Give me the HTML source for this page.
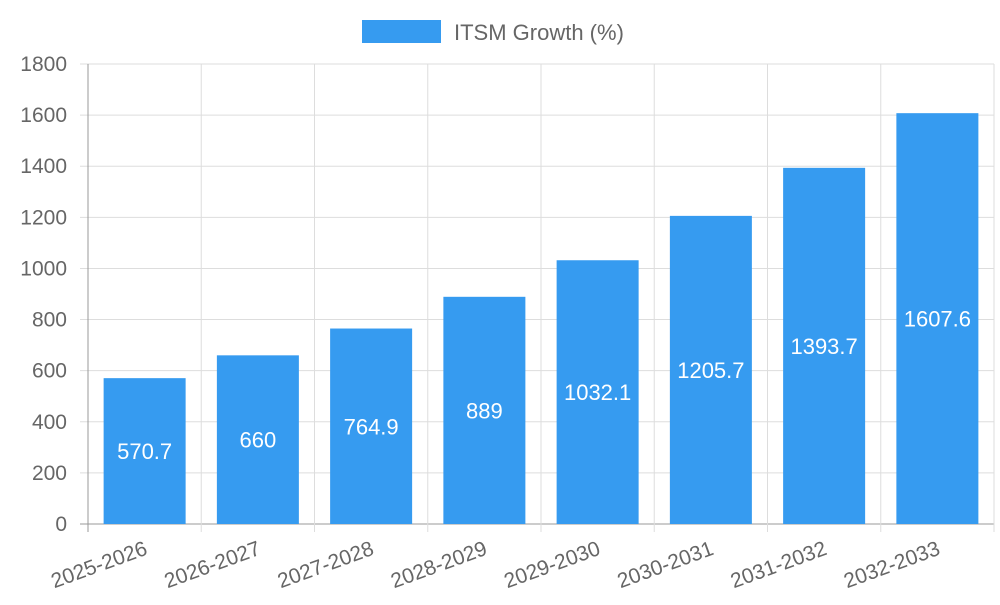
<!DOCTYPE html>
<html><head><meta charset="utf-8"><style>
body{margin:0;background:#fff;}
svg{font-family:"Liberation Sans",sans-serif;}
</style></head><body>
<svg width="1000" height="600">
<g>
<rect x="362" y="20" width="79" height="23" fill="#369bf0"/>
<text x="454" y="40" font-size="22" fill="#666">ITSM Growth (%)</text>
</g>
<g id="grid"></g>
<g id="bars"></g>
<g id="axes"></g>
</svg>
<script>
const categories=["2025-2026","2026-2027","2027-2028","2028-2029","2029-2030","2030-2031","2031-2032","2032-2033"];
const values=[570.7,660,764.9,889,1032.1,1205.7,1393.7,1607.6];
const yTicks=[0,200,400,600,800,1000,1200,1400,1600,1800];
const X0=88,X1=994,Y0=524,Y1=64,YMAX=1800;
const NS="http://www.w3.org/2000/svg";
const bw=(X1-X0)/categories.length;
const y=v=>Y0-(v/YMAX)*(Y0-Y1);
const x=i=>X0+i*bw;
function mk(t,a,p){const e=document.createElementNS(NS,t);for(const k in a)e.setAttribute(k,a[k]);p.appendChild(e);return e;}
const grid=document.getElementById('grid'),bars=document.getElementById('bars'),axes=document.getElementById('axes');
yTicks.forEach(t=>{
 const l=mk('line',{x1:X0-8,x2:X1,y1:y(t),y2:y(t),stroke:t===0?'#999':'#ddd','stroke-width':1},grid);
 
 
 const tx=mk('text',{x:X0-21,y:y(t)+7,'text-anchor':'end','font-size':21,fill:'#666'},axes);
 tx.textContent=t;
 
 
});
for(let i=0;i<=categories.length;i++){
 const l=mk('line',{x1:x(i),x2:x(i),y1:Y1,y2:Y0+8,stroke:i===0?'#999':'#ddd','stroke-width':1},grid);
 
 
}
categories.forEach((c,i)=>{
 const v=values[i],cx=x(i)+bw/2,w=82;
 const r=mk('rect',{x:cx-w/2,y:y(v),width:w,height:Y0-y(v),fill:'#369bf0'},bars);
 
 
 const vt=mk('text',{x:cx,y:(y(v)+Y0)/2+8,'text-anchor':'middle','font-size':22,fill:'#fff'},bars);
 vt.textContent=v;
 
 
 const lt=mk('text',{x:cx+4,y:Y0+30,'text-anchor':'end','font-size':21,fill:'#666',transform:`rotate(-20 ${cx+4} ${Y0+30})`},axes);
 lt.textContent=c;
 
 
});
</script>
</body></html>
